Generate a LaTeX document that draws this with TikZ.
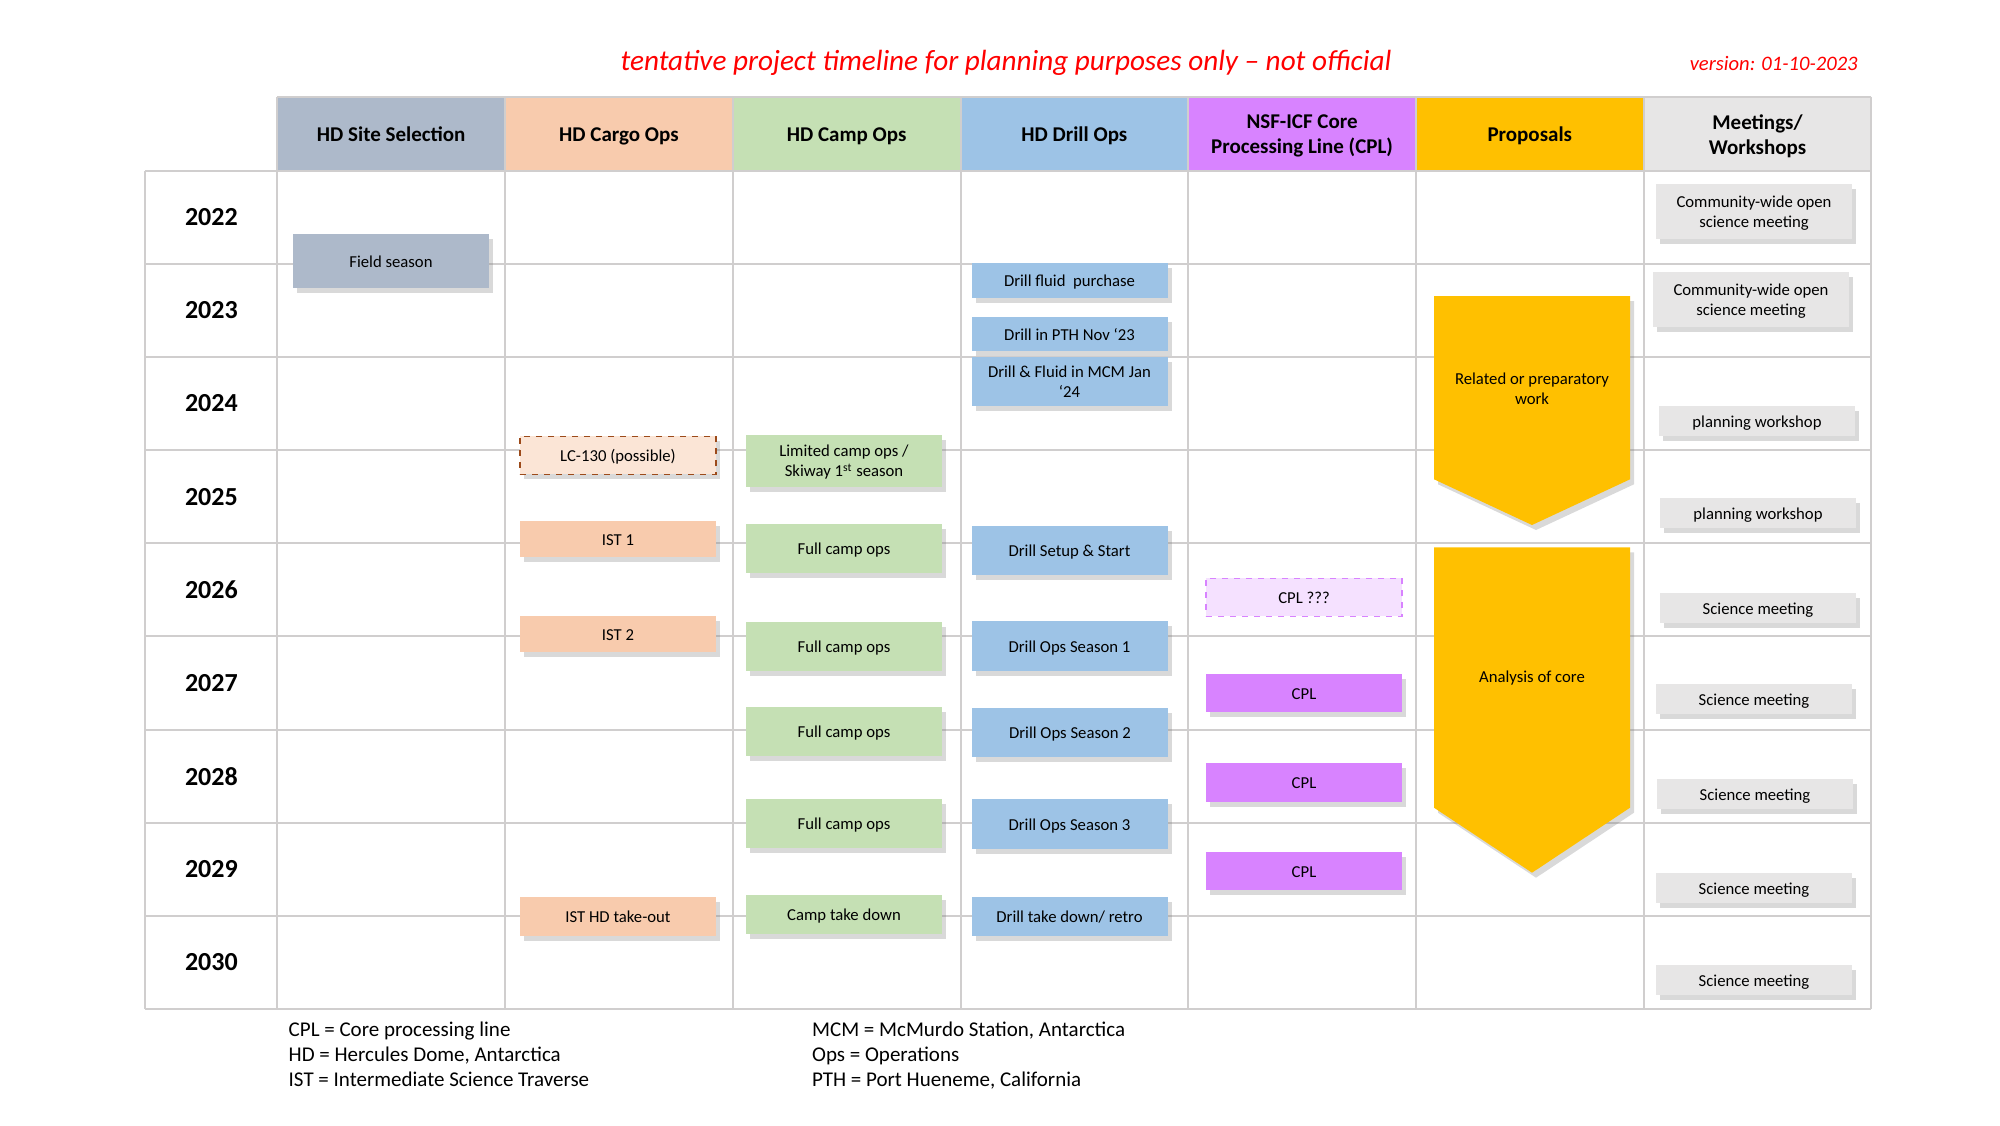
\documentclass[tikz,border=0pt]{standalone}
\usepackage{fontspec}
\setmainfont{Carlito}
\usetikzlibrary{shadows}

\definecolor{sitecol}{HTML}{ADB9CA}
\definecolor{cargocol}{HTML}{F8CBAD}
\definecolor{cargolite}{HTML}{FBE5D6}
\definecolor{cargoedge}{HTML}{9C4A1A}
\definecolor{campcol}{HTML}{C5E0B4}
\definecolor{drillcol}{HTML}{9DC3E6}
\definecolor{cplcol}{HTML}{D883FF}
\definecolor{cpllite}{HTML}{F5E1FF}
\definecolor{propcol}{HTML}{FFC000}
\definecolor{meetcol}{HTML}{E7E6E6}
\definecolor{gridcol}{HTML}{D0CECE}

\tikzset{
  gridline/.style={gridcol, line width=1pt},
  colhead/.style={font=\bfseries\fontsize{10.5}{12.5}\selectfont, align=center, text height=0.64em, text depth=0pt},
  twolines/.style={text height={}, text depth=0pt},
  yearlab/.style={font=\bfseries\fontsize{13}{14}\selectfont},
  boxfont/.style={font=\fontsize{8.35}{10}\selectfont},
  task/.style={rectangle, minimum width=98pt, inner sep=0pt, align=center, boxfont,
    text height=0.64em, text depth=0pt,
    drop shadow={shadow xshift=2pt, shadow yshift=-2.5pt, opacity=.3}},
  sitebox/.style={task, fill=sitecol},
  cargobox/.style={task, fill=cargocol},
  campbox/.style={task, fill=campcol},
  drillbox/.style={task, fill=drillcol},
  cplbox/.style={task, fill=cplcol},
  meetbox/.style={task, fill=meetcol},
  notes/.style={font=\fontsize{10.5}{12.5}\selectfont, align=left, inner sep=0pt, anchor=north west}
}

\begin{document}
\begin{tikzpicture}[x=0.5pt, y=-0.5pt]
    \useasboundingbox (0,0) rectangle (2000,1125);

    % Title and version
    \node[red, font=\itshape\fontsize{14.6}{16}\selectfont] (title) at (1006,63) {tentative project timeline for planning purposes only – not official};
    \node[red, font=\itshape\fontsize{10.3}{12}\selectfont, anchor=east, inner sep=0pt] (version) at (1858,63) {version: 01-10-2023};

    % Header cells and grid
    \foreach \c [count=\i from 0] in {sitecol,cargocol,campcol,drillcol,cplcol,propcol,meetcol}
        \fill[\c] (277.4+\i*227.7,96.7) rectangle ++(227.7,74);
    \foreach \i in {0,...,9}
        \draw[gridline] (145.4,170.7+\i*93.14) -- (1871.3,170.7+\i*93.14);
    \draw[gridline] (277.4,96.7) -- (1871.3,96.7);
    \draw[gridline] (145.4,170.7) -- (145.4,1009);
    \foreach \i in {0,...,7}
        \draw[gridline] (277.4+\i*227.7,96.7) -- (277.4+\i*227.7,1009);

    \node[colhead] (hsite) at (391.25,135) {HD Site Selection};
    \node[colhead] (hcargo) at (618.95,135) {HD Cargo Ops};
    \node[colhead] (hcamp) at (846.65,135) {HD Camp Ops};
    \node[colhead] (hdrill) at (1074.35,135) {HD Drill Ops};
    \node[colhead, twolines] (hcpl) at (1302.05,134.5) {NSF-ICF Core\\Processing Line (CPL)};
    \node[colhead] (hprop) at (1529.75,135) {Proposals};
    \node[colhead, twolines] (hmeet) at (1757.45,134.5) {Meetings/\\Workshops};

    % Years
    \foreach \yr [count=\i from 0] in {2022,...,2030}
        \node[yearlab] (y\yr) at (211.4,217.27+\i*93.14) {\yr};

    % Site selection and cargo
    \node[sitebox, minimum height=26.85pt] (field) at (391,260.85) {Field season};
    \node[cargobox, fill=cargolite, draw=cargoedge, dashed, line width=0.6pt, minimum height=19pt] (lc130) at (618,455.3) {LC-130 (possible)};
    \node[cargobox, minimum height=17.85pt] (ist1) at (618,538.85) {IST 1};
    \node[cargobox, minimum height=17.85pt] (ist2) at (618,633.85) {IST 2};
    \node[cargobox, minimum height=19.2pt] (istout) at (618,916.5) {IST HD take-out};

    % Camp ops
    \node[campbox, twolines, minimum height=26pt] (limcamp) at (844,461) {Limited camp ops /\\Skiway 1\textsuperscript{st} season};
    \node[campbox, minimum height=24.35pt] (camp1) at (844,548.35) {Full camp ops};
    \node[campbox, minimum height=24.35pt] (camp2) at (844,646.35) {Full camp ops};
    \node[campbox, minimum height=24.35pt] (camp3) at (844,731.35) {Full camp ops};
    \node[campbox, minimum height=24.2pt] (camp4) at (844,823.5) {Full camp ops};
    \node[campbox, minimum height=19.2pt] (campdown) at (844,914.5) {Camp take down};

    % Drill ops
    \node[drillbox, minimum height=17.2pt] (fluid) at (1069.5,280.5) {Drill fluid~~purchase};
    \node[drillbox, minimum height=17pt] (pth) at (1069.5,334) {Drill in PTH Nov ‘23};
    \node[drillbox, twolines, minimum height=24.35pt] (mcm) at (1069.5,381.65) {Drill \& Fluid in MCM Jan\\‘24};
    \node[drillbox, minimum height=24.5pt] (setup) at (1069.5,550.5) {Drill Setup \& Start};
    \node[drillbox, minimum height=24.85pt] (season1) at (1069.5,645.85) {Drill Ops Season 1};
    \node[drillbox, minimum height=24.5pt] (season2) at (1070,732.5) {Drill Ops Season 2};
    \node[drillbox, minimum height=24.7pt] (season3) at (1069.5,824) {Drill Ops Season 3};
    \node[drillbox, minimum height=19.2pt] (drilldown) at (1069.5,916.5) {Drill take down/ retro};

    % Core processing line
    \node[rectangle, minimum width=98pt, minimum height=19pt, inner sep=0pt, fill=cpllite, draw=cplcol, dashed, line width=0.6pt, boxfont, text height=0.64em, text depth=0pt] (cplq) at (1304,597.3) {CPL ???};
    \node[cplbox, minimum height=18.85pt] (cpl1) at (1304,692.85) {CPL};
    \node[cplbox, minimum height=19.35pt] (cpl2) at (1304,782.35) {CPL};
    \node[cplbox, minimum height=19pt] (cpl3) at (1304,871) {CPL};

    % Proposals
    \fill[propcol, drop shadow={shadow xshift=2pt, shadow yshift=-2.5pt, opacity=.3}] (1434,296) -- (1630,296) -- (1630,479.3) -- (1532,525) -- (1434,479.3) -- cycle;
    \node[align=center, boxfont] (prep) at (1532,388.7) {Related or preparatory\\work};
    \fill[propcol, drop shadow={shadow xshift=2pt, shadow yshift=-2.5pt, opacity=.3}] (1434,547.3) -- (1630,547.3) -- (1630,807.7) -- (1532,872.7) -- (1434,807.7) -- cycle;
    \node[boxfont] (analysis) at (1532,677.7) {Analysis of core};

    % Meetings / workshops
    \node[meetbox, twolines, minimum height=27.5pt] (meet22) at (1754,211.5) {Community-wide open\\science meeting};
    \node[meetbox, twolines, minimum height=27.35pt] (meet23) at (1751,299.65) {Community-wide open\\science meeting};
    \node[meetbox, minimum height=14.85pt] (plan24) at (1757,421.15) {planning workshop};
    \node[meetbox, minimum height=14.85pt] (plan25) at (1758,513.15) {planning workshop};
    \node[meetbox, minimum height=14.85pt] (sci26) at (1758,607.85) {Science meeting};
    \node[meetbox, minimum height=15pt] (sci27) at (1754,699) {Science meeting};
    \node[meetbox, minimum height=14.85pt] (sci28) at (1755,794.15) {Science meeting};
    \node[meetbox, minimum height=14.85pt] (sci29) at (1754,887.85) {Science meeting};
    \node[meetbox, minimum height=14.85pt] (sci30) at (1754,980.15) {Science meeting};

    % Abbreviations
    \node[notes] (abbrleft) at (288.3,1021) {CPL = Core processing line\\HD = Hercules Dome, Antarctica\\IST = Intermediate Science Traverse};
    \node[notes] (abbrright) at (811.7,1021) {MCM = McMurdo Station, Antarctica\\Ops = Operations\\PTH = Port Hueneme, California};

\end{tikzpicture}
\end{document}
